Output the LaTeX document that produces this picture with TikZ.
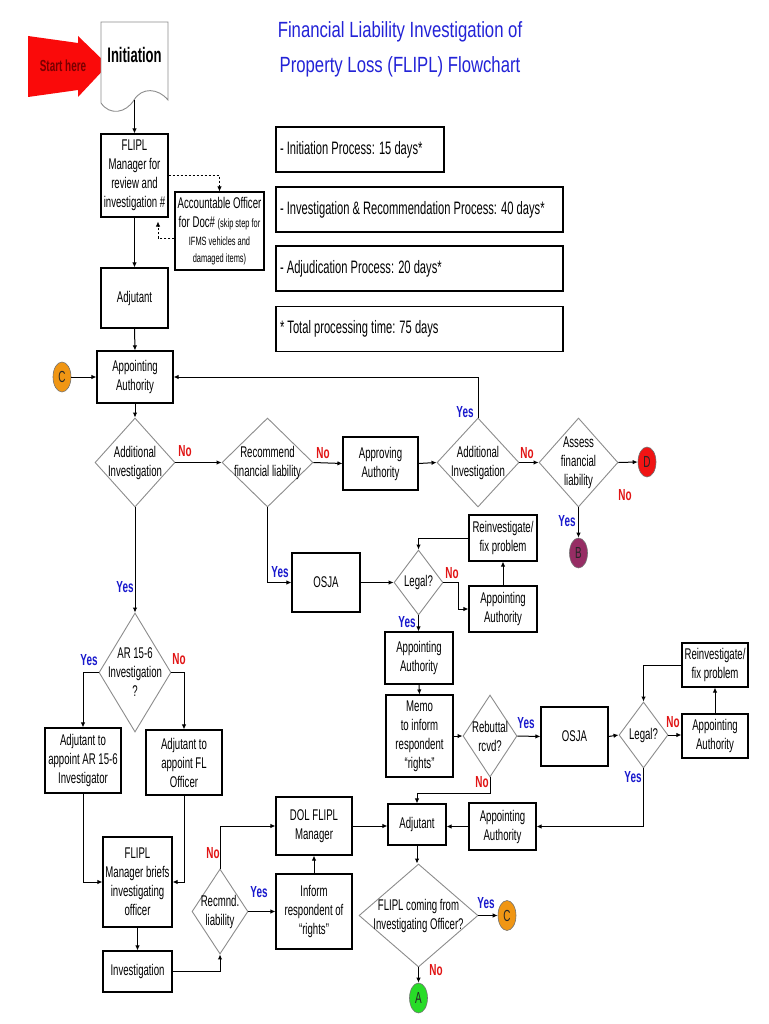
\documentclass[tikz,border=0pt]{standalone}
\usepackage{fontspec}
\setmainfont{Liberation Sans}[FakeStretch=0.62]
\newfontfamily\titlefont{Liberation Sans}[FakeStretch=0.76]
\usetikzlibrary{shapes.geometric,arrows.meta}
\definecolor{ttlblue}{RGB}{35,35,215}
\definecolor{yesblue}{RGB}{25,25,205}
\definecolor{nored}{RGB}{225,20,20}
\definecolor{dgray}{RGB}{140,140,140}
\definecolor{corange}{RGB}{240,150,20}
\definecolor{dred}{RGB}{240,20,20}
\definecolor{bpurple}{RGB}{150,45,100}
\definecolor{agreen}{RGB}{40,220,40}
\definecolor{startred}{RGB}{250,10,10}
\definecolor{starttext}{RGB}{120,0,0}
\newcommand{\smtxt}{\fontsize{12}{17}\selectfont}
\begin{document}
\begin{tikzpicture}[x=1pt,y=-1pt,
  box/.style={draw, line width=1.1pt, align=center, inner sep=1pt, fill=white,
    font=\fontsize{15.5}{19}\selectfont},
  infobox/.style={draw, line width=1.1pt, inner xsep=4pt, inner ysep=0pt,
    minimum height=45pt, font=\fontsize{18}{20}\selectfont},
  dia/.style={diamond, draw=dgray, line width=0.9pt, inner sep=0pt, fill=white},
  dtext/.style={align=center, font=\fontsize{15.5}{19}\selectfont, inner sep=0pt},
  conn/.style={ellipse, draw=black!55, line width=0.6pt, minimum width=18pt,
    minimum height=30pt, inner sep=0pt, font=\fontsize{16}{18}\selectfont, text=black!85},
  arr/.style={-{Latex[length=5pt,width=4.5pt]}, line width=1pt},
  darr/.style={arr, dashed, line width=0.8pt, dash pattern=on 2.5pt off 1.5pt},
  lyes/.style={text=yesblue, font=\bfseries\fontsize{16}{18}\selectfont, inner sep=0pt},
  lno/.style={text=nored, font=\bfseries\fontsize{16}{18}\selectfont, inner sep=0pt}]
\useasboundingbox (0,0) rectangle (768,1024);
\fill[white] (0,0) rectangle (768,1024);

% title
\node[align=center, text=ttlblue, font=\titlefont\fontsize{22}{35}\selectfont] (title) at (400,49.5)
  {Financial Liability Investigation of\\Property Loss (FLIPL) Flowchart};

% start arrow
\fill[startred] (28,36) -- (78,43) -- (78,36) -- (108,65) -- (78,97) -- (78,90) -- (28,97) -- cycle;
\node[text=starttext, font=\bfseries\fontsize{16}{18}\selectfont] (start) at (63,66) {Start here};

% initiation document
\filldraw[fill=white, draw=dgray, line width=0.9pt] (101,22) -- (168,22) -- (168,100)
  .. controls (158,88) and (142,87) .. (134,100)
  .. controls (126,113) and (110,116) .. (101,103) -- cycle;
\node[font=\bfseries\fontsize{21}{24}\selectfont] (init) at (134.5,55) {Initiation};
\coordinate (initb) at (134.5,100);

% info boxes
\node[infobox] (info1) at (360,149.5) {\makebox[160pt][l]{- Initiation Process: 15 days*}};
\node[infobox] (info2) at (419.5,209.5) {\makebox[279pt][l]{- Investigation \& Recommendation Process: 40 days*}};
\node[infobox] (info3) at (419.5,268.5) {\makebox[279pt][l]{- Adjudication Process: 20 days*}};
\node[infobox] (info4) at (419.5,329) {\makebox[279pt][l]{* Total processing time: 75 days}};

% boxes
\node[box, minimum width=67pt, minimum height=83pt] (flipl) at (134.5,175.5)
  {FLIPL\\Manager for\\review and\\investigation \#};
\node[box, minimum width=89pt, minimum height=78pt] (ao) at (219.5,231)
  {Accountable Officer\\for Doc\# {\smtxt(skip step for}\\[-1pt]
   \smtxt IFMS vehicles and\\[-2pt]\smtxt damaged items)};
\node[box, minimum width=67pt, minimum height=60pt] (adj1) at (134.5,298) {Adjutant};
\node[box, minimum width=76pt, minimum height=52pt] (aa1) at (135,377) {Appointing\\Authority};
\node[box, minimum width=75pt, minimum height=53pt] (appr) at (380.5,463.5) {Approving\\Authority};
\node[box, minimum width=68pt, minimum height=59pt] (osja1) at (326,582.5) {OSJA};
\node[box, minimum width=68pt, minimum height=46pt] (reinv1) at (503,538) {Reinvestigate/\\fix problem};
\node[box, minimum width=68pt, minimum height=46pt] (aa2) at (503,609) {Appointing\\Authority};
\node[box, minimum width=68pt, minimum height=52pt] (aa3) at (419,658) {Appointing\\Authority};
\node[box, minimum width=67pt, minimum height=82pt] (memo) at (419.5,736) {Memo\\to inform\\respondent\\``rights''};
\node[box, minimum width=67pt, minimum height=59pt] (osja2) at (574.5,736.5) {OSJA};
\node[box, minimum width=66pt, minimum height=44pt] (aa4) at (715,736) {Appointing\\Authority};
\node[box, minimum width=66pt, minimum height=44pt] (reinv2) at (715,665) {Reinvestigate/\\fix problem};
\node[box, minimum width=67pt, minimum height=47pt] (aa5) at (502.5,826.5) {Appointing\\Authority};
\node[box, minimum width=58pt, minimum height=41pt] (adj2) at (417,824.5) {Adjutant};
\node[box, minimum width=76pt, minimum height=65pt] (adjar) at (83,760.5) {Adjutant to\\appoint AR 15-6\\Investigator};
\node[box, minimum width=76pt, minimum height=65pt] (adjfl) at (184,762.5) {Adjutant to\\appoint FL\\Officer};
\node[box, minimum width=69pt, minimum height=90pt] (briefs) at (137.5,882) {FLIPL\\Manager briefs\\investigating\\officer};
\node[box, minimum width=69pt, minimum height=41pt] (invest) at (137.5,971.5) {Investigation};
\node[box, minimum width=76pt, minimum height=58pt] (dol) at (314,826) {DOL FLIPL\\Manager};
\node[box, minimum width=76pt, minimum height=75pt] (inform) at (314,911.5) {Inform\\respondent of\\``rights''};

% diamonds
\node[dia, minimum width=80pt, minimum height=89pt, label={[dtext]center:{Additional\\Investigation}}] (d1) at (135,462.5) {};
\node[dia, minimum width=91pt, minimum height=89pt, label={[dtext]center:{Recommend\\financial liability}}] (d2) at (267.5,462.5) {};
\node[dia, minimum width=82pt, minimum height=89pt, label={[dtext]center:{Additional\\Investigation}}] (d3) at (478,462.5) {};
\node[dia, minimum width=79pt, minimum height=89pt, label={[dtext]center:{Assess\\financial\\liability}}] (d4) at (578.5,462.5) {};
\node[dia, minimum width=49pt, minimum height=65pt, label={[dtext]center:{Legal?}}] (legal1) at (418.5,582.5) {};
\node[dia, minimum width=54pt, minimum height=82pt, label={[dtext]center:{Rebuttal\\rcvd?}}] (rebut) at (490,736) {};
\node[dia, minimum width=49pt, minimum height=66pt, label={[dtext]center:{Legal?}}] (legal2) at (643.5,735) {};
\node[dia, minimum width=72pt, minimum height=119pt, label={[dtext]center:{AR 15-6\\Investigation\\?}}] (ar) at (135,672.5) {};
\node[dia, minimum width=56pt, minimum height=85pt, label={[dtext]center:{Recmnd.\\liability}}] (recmnd) at (220,911.5) {};
\node[dia, minimum width=119pt, minimum height=103pt, label={[dtext]center:{FLIPL coming from\\Investigating Officer?}}] (flcome) at (418.5,915.5) {};

% connector circles
\node[conn, fill=corange] (cc1) at (62,377) {C};
\node[conn, fill=dred] (dd) at (647,462) {D};
\node[conn, fill=bpurple] (bb) at (578.5,553) {B};
\node[conn, fill=corange] (cc2) at (507,915.5) {C};
\node[conn, fill=agreen] (aa) at (418.5,998) {A};

% connectors
\draw[arr] (initb) -- (flipl.north);
\draw[darr] (flipl.east) -| (ao.north);
\draw[darr] ([yshift=-7pt]ao.west) -| ([xshift=23.5pt,yshift=-4pt]flipl.south);
\draw[arr] (flipl.south) -- (adj1.north);
\draw[arr] (adj1.south) -- (aa1.north);
\draw[arr] (cc1.east) -- (aa1.west);
\draw[arr] (aa1.south) -- (d1.north);
\draw[arr] (d1.east) -- (d2.west);
\draw[arr] (d2.east) -- (appr.west);
\draw[arr] (appr.east) -- (d3.west);
\draw[arr] (d3.north) |- (aa1.east);
\draw[arr] (d3.east) -- (d4.west);
\draw[arr] (d4.east) -- (dd.west);
\draw[arr] (d4.south) -- (bb.north);
\draw[arr] (d2.south) |- (osja1.west);
\draw[arr] (osja1.east) -- (legal1.west);
\draw[arr] (legal1.east) -- ++(15,0) |- (aa2.west);
\draw[arr] (aa2.north) -- (reinv1.south);
\draw[arr] (reinv1.west) -| (legal1.north);
\draw[arr] (legal1.south) -- (legal1.south |- aa3.north);
\draw[arr] (aa3.south) -- (memo.north);
\draw[arr] (memo.east) -- (rebut.west);
\draw[arr] (rebut.east) -- (osja2.west);
\draw[arr] (osja2.east) -- (legal2.west);
\draw[arr] (legal2.east) -- (legal2.east -| aa4.west);
\draw[arr] (aa4.north) -- (reinv2.south);
\draw[arr] (reinv2.west) -| (legal2.north);
\draw[arr] (legal2.south) |- (aa5.east);
\draw[arr] (aa5.west) -- (aa5.west -| adj2.east);
\draw[arr] (rebut.south) -- ++(0,16) -| (adj2.north);
\draw[arr] (dol.east) -- (dol.east -| adj2.west);
\draw[arr] (adj2.south) -- (adj2.south |- flcome.north);
\draw[arr] (flcome.east) -- (cc2.west);
\draw[arr] (flcome.south) -- (aa.north);
\draw[arr] (d1.south) -- (ar.north);
\draw[arr] (ar.west) -| (adjar.north);
\draw[arr] (ar.east) -| (adjfl.north);
\draw[arr] (adjar.south) |- (briefs.west);
\draw[arr] (adjfl.south) |- (briefs.east);
\draw[arr] (briefs.south) -- (invest.north);
\draw[arr] (invest.east) -| (recmnd.south);
\draw[arr] (recmnd.north) |- (dol.west);
\draw[arr] (recmnd.east) -- (inform.west);
\draw[arr] (inform.north) -- (dol.south);

% yes / no labels
\node[lno] (n1) at (185,451) {No};
\node[lno] (n2) at (323,453) {No};
\node[lyes] (y1) at (465,412) {Yes};
\node[lno] (n3) at (527,453) {No};
\node[lno] (n4) at (625,495) {No};
\node[lyes] (y2) at (567,521) {Yes};
\node[lyes] (y3) at (280,572) {Yes};
\node[lno] (n5) at (452,573) {No};
\node[lyes] (y4) at (407,622) {Yes};
\node[lyes] (y5) at (526,723) {Yes};
\node[lno] (n6) at (673,722) {No};
\node[lyes] (y6) at (633,777) {Yes};
\node[lno] (n7) at (482,782) {No};
\node[lyes] (y7) at (486,903) {Yes};
\node[lno] (n8) at (436,970) {No};
\node[lyes] (y8) at (125,587) {Yes};
\node[lyes] (y9) at (89,660) {Yes};
\node[lno] (n9) at (179,659) {No};
\node[lno] (n10) at (213,853) {No};
\node[lyes] (y10) at (259,892) {Yes};
\end{tikzpicture}
\end{document}
